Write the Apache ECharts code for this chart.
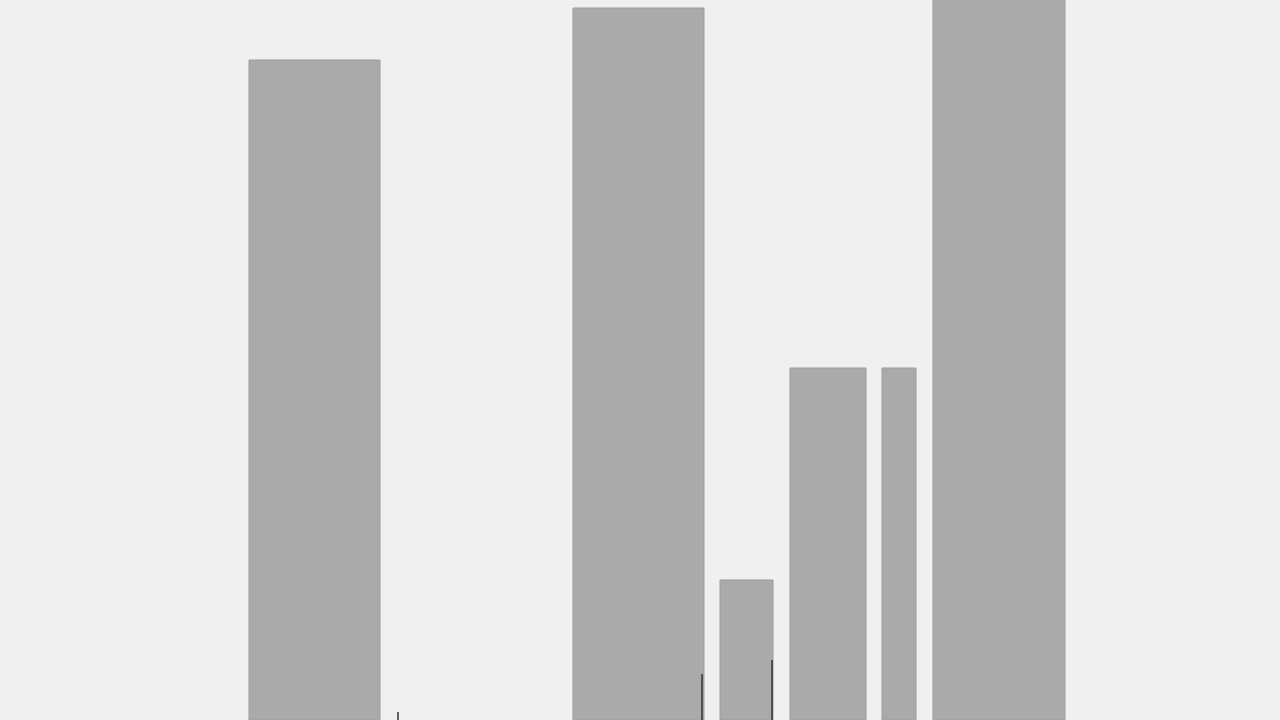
<!DOCTYPE html>
<html>
<head>
<meta charset="utf-8">
<style>
  html, body { margin: 0; padding: 0; background: #f0f0f0; }
  #chart { width: 1280px; height: 720px; }
</style>
<script src="https://cdn.jsdelivr.net/npm/echarts@6/dist/echarts.min.js"></script>
</head>
<body>
<div id="chart"></div>
<script>
// bars: left edge, right edge, height (in axis units)
var barStart = [249, 573, 720, 790, 882, 933];
var barEnd = [380, 704, 773, 866, 916, 1065];
var barHeight = [660, 712, 140, 352, 352, 730];

// thin dark strokes near the base
var markX = [398, 702, 772];
var markHeight = [8, 46, 60];

var bars = barStart.map(function (s, i) { return [s, barEnd[i], barHeight[i]]; });
var marks = markX.map(function (x, i) { return [x, markHeight[i]]; });

var chart = echarts.init(document.getElementById('chart'));
chart.setOption({
    backgroundColor: '#f0f0f0',
    animation: false,
    grid: { left: 0, right: 0, top: 0, bottom: 0 },
    xAxis: { type: 'value', min: 0, max: 1280, show: false },
    yAxis: { type: 'value', min: 0, max: 720, show: false },
    series: [{
        type: 'custom',
        clip: true,
        data: bars,
        encode: { x: [0, 1], y: 2 },
        renderItem: function (params, api) {
            var p0 = api.coord([api.value(0), api.value(2)]);
            var p1 = api.coord([api.value(1), 0]);
            return {
                type: 'rect',
                shape: { x: p0[0], y: p0[1], width: p1[0] - p0[0], height: p1[1] - p0[1] },
                style: { fill: '#aaaaaa', stroke: '#9c9c9c', lineWidth: 1 }
            };
        }
    }, {
        type: 'custom',
        clip: true,
        data: marks,
        encode: { x: 0, y: 1 },
        renderItem: function (params, api) {
            var p0 = api.coord([api.value(0), api.value(1)]);
            var p1 = api.coord([api.value(0), 0]);
            return {
                type: 'line',
                shape: { x1: p0[0], y1: p0[1], x2: p1[0], y2: p1[1] },
                style: { stroke: '#333333', lineWidth: 1.5 }
            };
        }
    }]
});
</script>
</body>
</html>
